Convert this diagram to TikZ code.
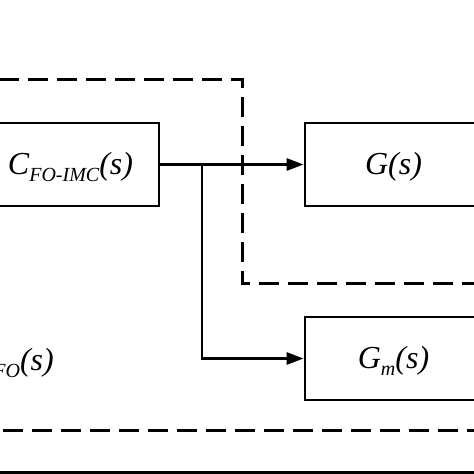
\documentclass[tikz,border=0pt]{standalone}
\usepackage{fontspec}
\setmainfont{Liberation Serif}
\usepackage{tikz}
\usetikzlibrary{arrows.meta,positioning}
\newcommand{\lowsub}[1]{\raisebox{-7pt}{\fontsize{20}{20}\selectfont #1}}

\begin{document}
\begin{tikzpicture}[
  x=1pt, y=-1pt,
  box/.style={rectangle, draw, line width=2.8pt, minimum width=177pt,
              minimum height=83pt, text height=24pt, text depth=4pt,
              inner sep=0pt, text centered,
              font=\fontsize{32}{36}\selectfont\itshape},
  lbl/.style={inner sep=0pt, font=\fontsize{32}{36}\selectfont\itshape},
  region/.style={line width=3pt, dash pattern=on 20pt off 9pt},
  arr/.style={-{Triangle[length=17pt,width=12pt]}, line width=2.8pt},
]
  \useasboundingbox (0,0) rectangle (474,474);
  \clip (0,0) rectangle (474,474);

  % Controller and plant
  \node[box] (ctrl) at (70.5,164.5) {C\lowsub{FO-IMC}(s)};
  \node[box] (plant) at (393.5,164.5) {G(s)};
  \node[box] (model) at (393.5,358.5) {G\lowsub{m}(s)};

  % Filter label (cut at the left border)
  \node[lbl, anchor=base east] (filt) at (54,370) {\lowsub{FO}(s)};

  % Dashed regions
  \draw[region] (-30,79) -- (242,79) -- (242,283) -- (500,283);
  \draw[region] (3,430) -- (500,430);
  \draw[line width=3.5pt] (-10,472.5) -- (500,472.5);

  % Arrows
  \coordinate (branch) at (202,164.5);
  \draw[arr] (ctrl.east) -- (plant.west);
  \draw[arr] (branch) |- (model.west);
\end{tikzpicture}
\end{document}
